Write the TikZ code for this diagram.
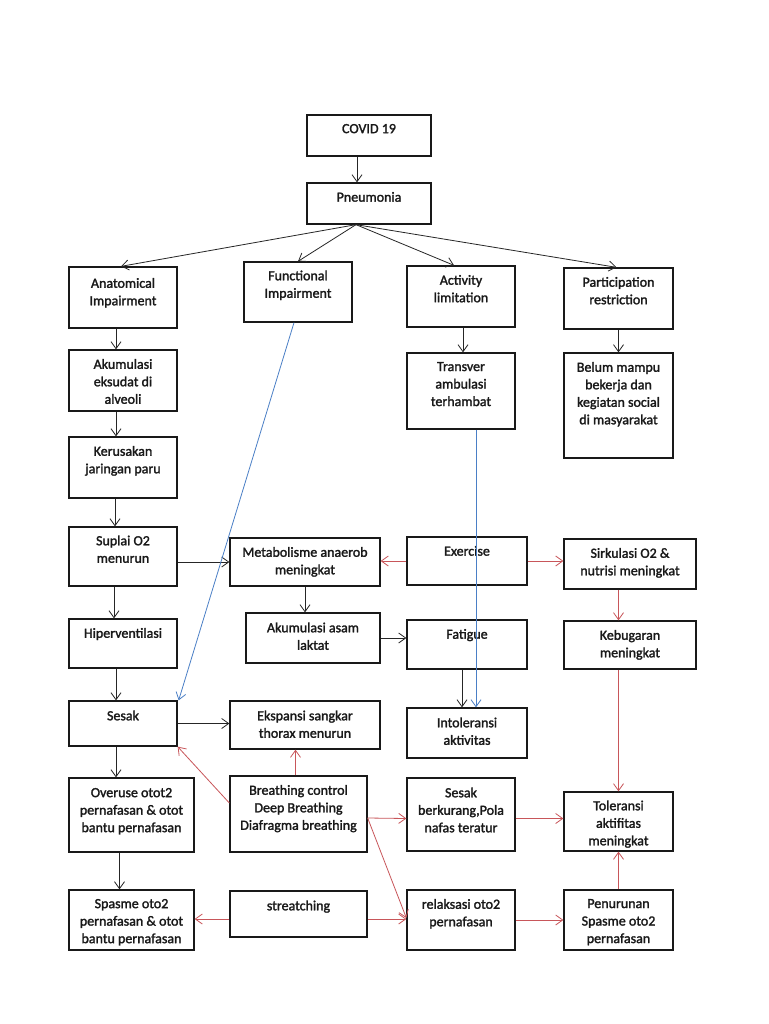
\documentclass[tikz,border=0pt]{standalone}
\usepackage{fontspec}
\setmainfont{Carlito}[FakeBold=1.8]
\usepackage{tikz}
\usetikzlibrary{arrows.meta,positioning}
\definecolor{arrred}{HTML}{C8565A}
\definecolor{arrblue}{HTML}{4A7FC6}

\begin{document}
\begin{tikzpicture}[x=1pt,y=-1pt,
  bx/.style={draw=black!90,line width=1.3pt,rectangle,inner sep=0pt},
  txt/.style={align=center,inner sep=0pt,font=\fontsize{14}{17.5}\selectfont,text=black!90},
  arr/.style={-{Straight Barb[length=7pt,width=10pt]},line width=0.8pt,black!85},
  arrR/.style={arr,arrred},
  arrB/.style={arr,arrblue}]
  \fill[white] (0,0) rectangle (768,1024);
  \useasboundingbox (0,0) rectangle (768,1024);
  % boxes
  \node[bx,minimum width=124,minimum height=41] (cov) at (369,135.5) {};
  \node[bx,minimum width=124,minimum height=41] (pneu) at (369,203.5) {};
  \node[bx,minimum width=108,minimum height=61] (anat) at (123,297.5) {};
  \node[bx,minimum width=108,minimum height=60] (func) at (298,292) {};
  \node[bx,minimum width=108,minimum height=61] (act) at (461,296.5) {};
  \node[bx,minimum width=109,minimum height=61] (part) at (618.5,298.5) {};
  \node[bx,minimum width=108,minimum height=61] (eks) at (123,380.5) {};
  \node[bx,minimum width=108,minimum height=61] (rusak) at (123,467.5) {};
  \node[bx,minimum width=108,minimum height=76] (trans) at (461,391) {};
  \node[bx,minimum width=109,minimum height=105] (belum) at (618.5,405.5) {};
  \node[bx,minimum width=108,minimum height=59] (suplai) at (123,556.5) {};
  \node[bx,minimum width=150,minimum height=48] (metab) at (305,562) {};
  \node[bx,minimum width=120,minimum height=48] (exer) at (467,561) {};
  \node[bx,minimum width=132,minimum height=50] (sirk) at (630,564) {};
  \node[bx,minimum width=108,minimum height=49] (hiper) at (123,643.5) {};
  \node[bx,minimum width=134,minimum height=50] (laktat) at (313,638) {};
  \node[bx,minimum width=120,minimum height=49] (fat) at (467,644.5) {};
  \node[bx,minimum width=132,minimum height=48] (bugar) at (630,645) {};
  \node[bx,minimum width=108,minimum height=45] (sesak) at (123,723.5) {};
  \node[bx,minimum width=150,minimum height=48] (ekspan) at (305,725) {};
  \node[bx,minimum width=120,minimum height=50] (intol) at (467,733) {};
  \node[bx,minimum width=125,minimum height=74] (over) at (131.5,815) {};
  \node[bx,minimum width=137,minimum height=76] (breath) at (298.5,814) {};
  \node[bx,minimum width=108,minimum height=73] (sbk) at (461,814.5) {};
  \node[bx,minimum width=109,minimum height=59] (toler) at (618.5,821.5) {};
  \node[bx,minimum width=125,minimum height=60] (spasme) at (131.5,920) {};
  \node[bx,minimum width=137,minimum height=46] (stretch) at (298.5,914) {};
  \node[bx,minimum width=108,minimum height=60] (relax) at (461,920) {};
  \node[bx,minimum width=109,minimum height=60] (turun) at (618.5,920) {};
  % texts
  \node[txt,below=9.5pt of cov.north] (covt) {COVID 19};
  \node[txt,below=9.5pt of pneu.north] (pneut) {Pneumonia};
  \node[txt,below=11.5pt of anat.north] (anatt) {Anatomical\\Impairment};
  \node[txt,below=9pt of func.north] (funct) {Functional\\Impairment};
  \node[txt,below=9.5pt of act.north] (actt) {Activity\\limitation};
  \node[txt,below=9.5pt of part.north] (partt) {Participation\\restriction};
  \node[txt,below=9.5pt of eks.north] (ekst) {Akumulasi\\eksudat di\\alveoli};
  \node[txt,below=9.5pt of rusak.north] (rusakt) {Kerusakan\\jaringan paru};
  \node[txt,below=9.5pt of trans.north] (transt) {Transver\\ambulasi\\terhambat};
  \node[txt,below=9.5pt of belum.north] (belumt) {Belum mampu\\bekerja dan\\kegiatan social\\di masyarakat};
  \node[txt,below=9pt of suplai.north] (suplait) {Suplai O2\\menurun};
  \node[txt,below=9.5pt of metab.north] (metabt) {Metabolisme anaerob\\meningkat};
  \node[txt,below=9.5pt of exer.north] (exert) {Exercise};
  \node[txt,below=9.5pt of sirk.north] (sirkt) {Sirkulasi O2 \&\\nutrisi meningkat};
  \node[txt,below=9.5pt of hiper.north] (hipert) {Hiperventilasi};
  \node[txt,below=10pt of laktat.north] (laktatt) {Akumulasi asam\\laktat};
  \node[txt,below=9.5pt of fat.north] (fatt) {Fatigue};
  \node[txt,below=9.5pt of bugar.north] (bugart) {Kebugaran\\meningkat};
  \node[txt,below=10pt of sesak.north] (sesakt) {Sesak};
  \node[txt,below=10pt of ekspan.north] (ekspant) {Ekspansi sangkar\\thorax menurun};
  \node[txt,below=10pt of intol.north] (intolt) {Intoleransi\\aktivitas};
  \node[txt,below=10.5pt of over.north] (overt) {Overuse otot2\\pernafasan \& otot\\bantu pernafasan};
  \node[txt,below=9.5pt of breath.north] (breatht) {Breathing control\\Deep Breathing\\Diafragma breathing};
  \node[txt,below=10pt of sbk.north] (sbkt) {Sesak\\berkurang,Pola\\nafas teratur};
  \node[txt,below=9pt of toler.north] (tolert) {Toleransi\\aktifitas\\meningkat};
  \node[txt,below=9.5pt of spasme.north] (spasmet) {Spasme oto2\\pernafasan \& otot\\bantu pernafasan};
  \node[txt,below=10pt of stretch.north] (stretcht) {streatching};
  \node[txt,below=9.5pt of relax.north] (relaxt) {relaksasi oto2\\pernafasan};
  \node[txt,below=9.5pt of turun.north] (turunt) {Penurunan\\Spasme oto2\\pernafasan};
  % black arrows
  \draw[arr] ([xshift=-12pt]cov.south) -- ([xshift=-12pt]pneu.north);
  \draw[arr] ([xshift=-13pt]pneu.south) -- ([xshift=-2pt]anat.north);
  \draw[arr] ([xshift=-13pt]pneu.south) -- (func.north);
  \draw[arr] ([xshift=-13pt]pneu.south) -- ([xshift=-7pt]act.north);
  \draw[arr] ([xshift=-13pt]pneu.south) -- ([xshift=-2pt]part.north);
  \draw[arr] ([xshift=-7pt]anat.south) -- ([xshift=-7pt]eks.north);
  \draw[arr] ([xshift=2pt]act.south) -- ([xshift=2pt]trans.north);
  \draw[arr] (part.south) -- (belum.north);
  \draw[arr] ([xshift=-7pt]eks.south) -- ([xshift=-7pt]rusak.north);
  \draw[arr] ([xshift=-8pt]rusak.south) -- ([xshift=-8pt]suplai.north);
  \draw[arr] (metab.west -| suplai.east) -- (metab.west);
  \draw[arr] ([xshift=-9pt]suplai.south) -- ([xshift=-9pt]hiper.north);
  \draw[arr] (metab.south) -- (metab.south |- laktat.north);
  \draw[arr] (laktat.east) -- (laktat.east -| fat.west);
  \draw[arr] ([xshift=-5pt]fat.south) -- ([xshift=-5pt]intol.north);
  \draw[arr] ([xshift=-7pt]hiper.south) -- ([xshift=-7pt]sesak.north);
  \draw[arr] (sesak.east) -- (sesak.east -| ekspan.west);
  \draw[arr] ([xshift=-7pt]sesak.south) -- ([xshift=-7pt]sesak.south |- over.north);
  \draw[arr] ([xshift=-12pt]over.south) -- ([xshift=-12pt]spasme.north);
  % blue arrows
  \draw[arrB] ([xshift=-4pt]func.south) -- ([xshift=1pt]sesak.north east);
  \draw[arrB] ([xshift=15pt]trans.south) -- ([xshift=15pt]trans.south |- intol.north);
  % red arrows
  \draw[arrR] (exer.west) -- (exer.west -| metab.east);
  \draw[arrR] (exer.east) -- (exer.east -| sirk.west);
  \draw[arrR] (sirk.south -| toler.north) -- (bugar.north -| toler.north);
  \draw[arrR] (bugar.south -| toler.north) -- (toler.north);
  \draw[arrR] ([xshift=-3pt]breath.north) -- ([xshift=-3pt]breath.north |- ekspan.south);
  \draw[arrR] ([yshift=11pt]breath.west) -- (sesak.south east);
  \draw[arrR] ([yshift=-4pt]breath.east) -- ([yshift=-4pt]sbk.west);
  \draw[arrR] ([yshift=-4pt]breath.east) -- ([yshift=2pt]relax.west);
  \draw[arrR] ([yshift=-4pt]sbk.east) -- ([yshift=-4pt]sbk.east -| toler.west);
  \draw[arrR] ([yshift=-5pt]stretch.west) -- ([yshift=-5pt]stretch.west -| spasme.east);
  \draw[arrR] ([yshift=-5pt]stretch.east) -- ([yshift=-5pt]stretch.east -| relax.west);
  \draw[arrR] (relax.east) -- (turun.west);
  \draw[arrR] (turun.north) -- (toler.south);
\end{tikzpicture}
\end{document}
